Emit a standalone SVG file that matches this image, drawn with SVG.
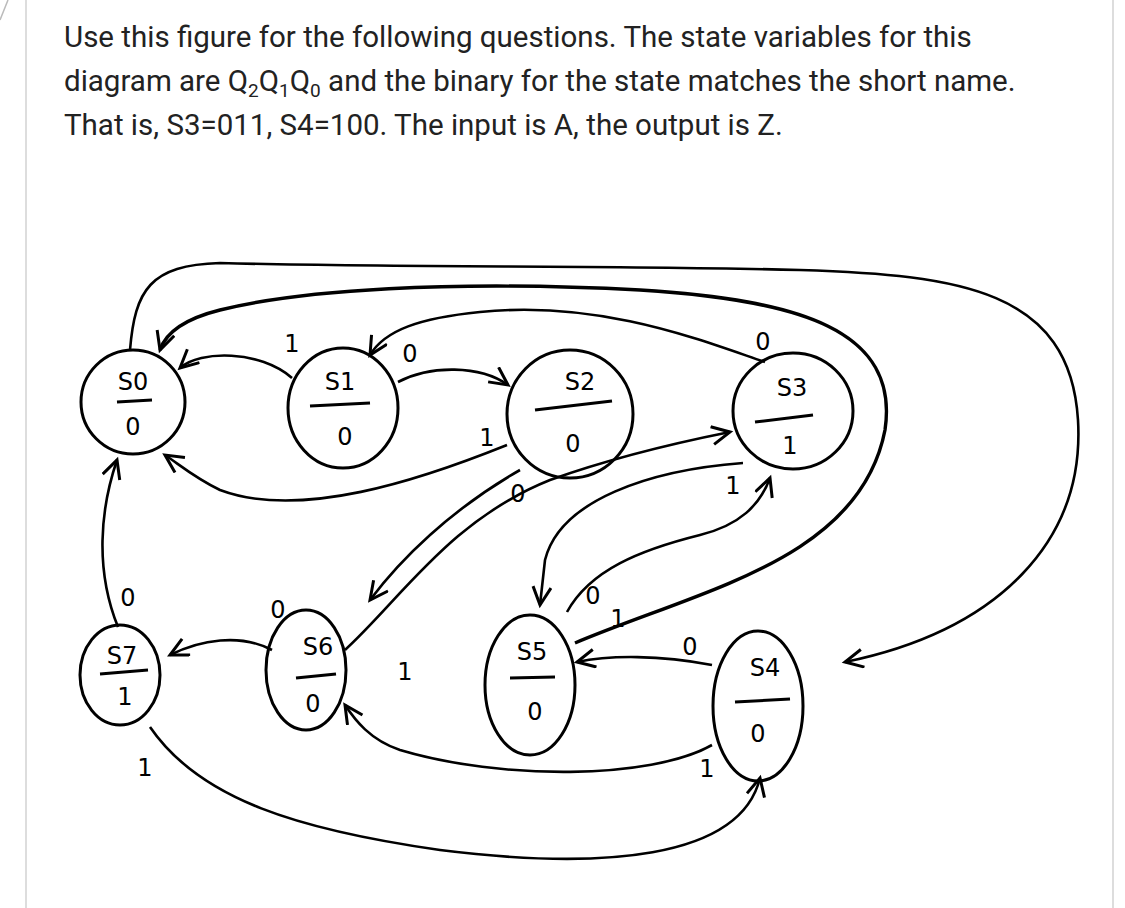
<svg xmlns="http://www.w3.org/2000/svg" width="1125" height="908" viewBox="0 0 1125 908">
<style>
.hdr{font-family:Roboto,"Liberation Sans",sans-serif;font-size:29.5px;fill:#222}
.st{fill:none;stroke:#000;stroke-width:3}
.e{fill:none;stroke:#000;stroke-width:2.6;marker-end:url(#ah)}
.hw{font-family:"DejaVu Sans",sans-serif;font-size:24px;fill:#000;text-anchor:middle}
.bar{stroke:#000;stroke-width:3}
</style>
<defs>
<marker id="ah" markerUnits="userSpaceOnUse" markerWidth="24" markerHeight="24" refX="20" refY="10" orient="auto">
<path d="M2,1 L20,10 L2,19" fill="none" stroke="#000" stroke-width="3"/>
</marker>
</defs>
<rect width="1125" height="908" fill="#fff"/>
<line x1="26" y1="0" x2="26" y2="908" stroke="#ddd" stroke-width="2"/>
<line x1="1113" y1="0" x2="1113" y2="908" stroke="#ddd" stroke-width="2"/>
<line x1="0" y1="20" x2="8" y2="0" stroke="#bbb" stroke-width="1.5"/>
<g id="header">
<text class="hdr" x="64" y="47">Use this figure for the following questions. The state variables for this</text>
<text class="hdr" x="64" y="91">diagram are Q<tspan font-size="19" dy="6">2</tspan><tspan dy="-6">Q</tspan><tspan font-size="19" dy="6">1</tspan><tspan dy="-6">Q</tspan><tspan font-size="19" dy="6">0</tspan><tspan dy="-6"> and the binary for the state matches the short name.</tspan></text>
<text class="hdr" x="64" y="135">That is, S3=011, S4=100. The input is A, the output is Z.</text>
</g>
<g id="connectors">
<path class="e" d="M292,378 C260,350 200,350 180,368"/>
<path class="e" d="M398,382 C430,365 480,365 508,385"/>
<path class="e" d="M765,362 C700,340 600,300 480,312 C420,318 385,330 370,355"/>
<path class="e" style="stroke-width:3.4" d="M575,643 C700,590 860,560 885,430 C900,330 800,300 640,290 C450,280 300,290 220,310 C180,320 165,335 160,350"/>
<path class="e" d="M130,350 C135,290 150,265 220,263 C400,268 600,265 800,270 C960,275 1070,290 1078,420 C1085,540 1000,630 845,662"/>
<path class="e" d="M507,445 C420,480 300,520 220,490 C195,478 180,465 165,455"/>
<path class="e" d="M520,470 C450,510 400,560 370,600"/>
<path class="e" d="M345,650 C400,600 450,520 550,480 C620,455 690,440 730,432"/>
<path class="e" d="M743,463 C650,470 560,500 545,560 L540,605"/>
<path class="e" d="M567,612 C590,570 640,550 700,535 C740,525 760,505 770,478"/>
<path class="e" d="M712,665 C660,655 610,655 577,662"/>
<path class="e" d="M712,745 C650,780 500,780 400,750 C370,740 355,720 345,705"/>
<path class="e" d="M150,727 C200,800 300,830 440,850 C600,870 740,860 760,778"/>
<path class="e" d="M118,627 C95,570 100,510 117,460"/>
<path class="e" d="M272,650 C240,633 200,640 170,655"/>
<text class="hw" x="292" y="352">1</text>
<text class="hw" x="410" y="362">0</text>
<text class="hw" x="763" y="350">0</text>
<text class="hw" x="618" y="627">1</text>
<text class="hw" x="487" y="446">1</text>
<text class="hw" x="518" y="502">0</text>
<text class="hw" x="405" y="680">1</text>
<text class="hw" x="733" y="494">1</text>
<text class="hw" x="593" y="604">0</text>
<text class="hw" x="690" y="655">0</text>
<text class="hw" x="707" y="777">1</text>
<text class="hw" x="145" y="776">1</text>
<text class="hw" x="128" y="606">0</text>
<text class="hw" x="278" y="618">0</text>
</g>
<g id="S0"><ellipse class="st" cx="133" cy="402" rx="52" ry="52"/><text class="hw" x="133" y="390" font-size="20">S0</text><line class="bar" x1="117" y1="402" x2="152" y2="400"/><text class="hw" x="133" y="435">0</text></g>
<g id="S1"><ellipse class="st" cx="343" cy="408" rx="55" ry="60"/><text class="hw" x="340" y="390">S1</text><line class="bar" x1="310" y1="406" x2="370" y2="403"/><text class="hw" x="345" y="445">0</text></g>
<g id="S2"><ellipse class="st" cx="570" cy="414" rx="63" ry="64"/><text class="hw" x="580" y="390">S2</text><line class="bar" x1="535" y1="410" x2="612" y2="401"/><text class="hw" x="573" y="452">0</text></g>
<g id="S3"><ellipse class="st" cx="793" cy="411" rx="60" ry="58"/><text class="hw" x="792" y="396">S3</text><line class="bar" x1="755" y1="422" x2="813" y2="415"/><text class="hw" x="790" y="454">1</text></g>
<g id="S7"><ellipse class="st" cx="120" cy="675" rx="40" ry="50"/><text class="hw" x="122" y="664">S7</text><line class="bar" x1="100" y1="674" x2="148" y2="670"/><text class="hw" x="125" y="705">1</text></g>
<g id="S6"><ellipse class="st" cx="306" cy="670" rx="40" ry="60"/><text class="hw" x="318" y="655" font-size="20">S6</text><line class="bar" x1="296" y1="678" x2="336" y2="674"/><text class="hw" x="313" y="712">0</text></g>
<g id="S5"><ellipse class="st" cx="530" cy="685" rx="45" ry="70"/><text class="hw" x="532" y="660">S5</text><line class="bar" x1="510" y1="678" x2="555" y2="677"/><text class="hw" x="535" y="720">0</text></g>
<g id="S4"><ellipse class="st" cx="758" cy="706" rx="45" ry="75"/><text class="hw" x="765" y="676" font-size="26">S4</text><line class="bar" x1="735" y1="702" x2="790" y2="699"/><text class="hw" x="758" y="742">0</text></g>
</svg>
